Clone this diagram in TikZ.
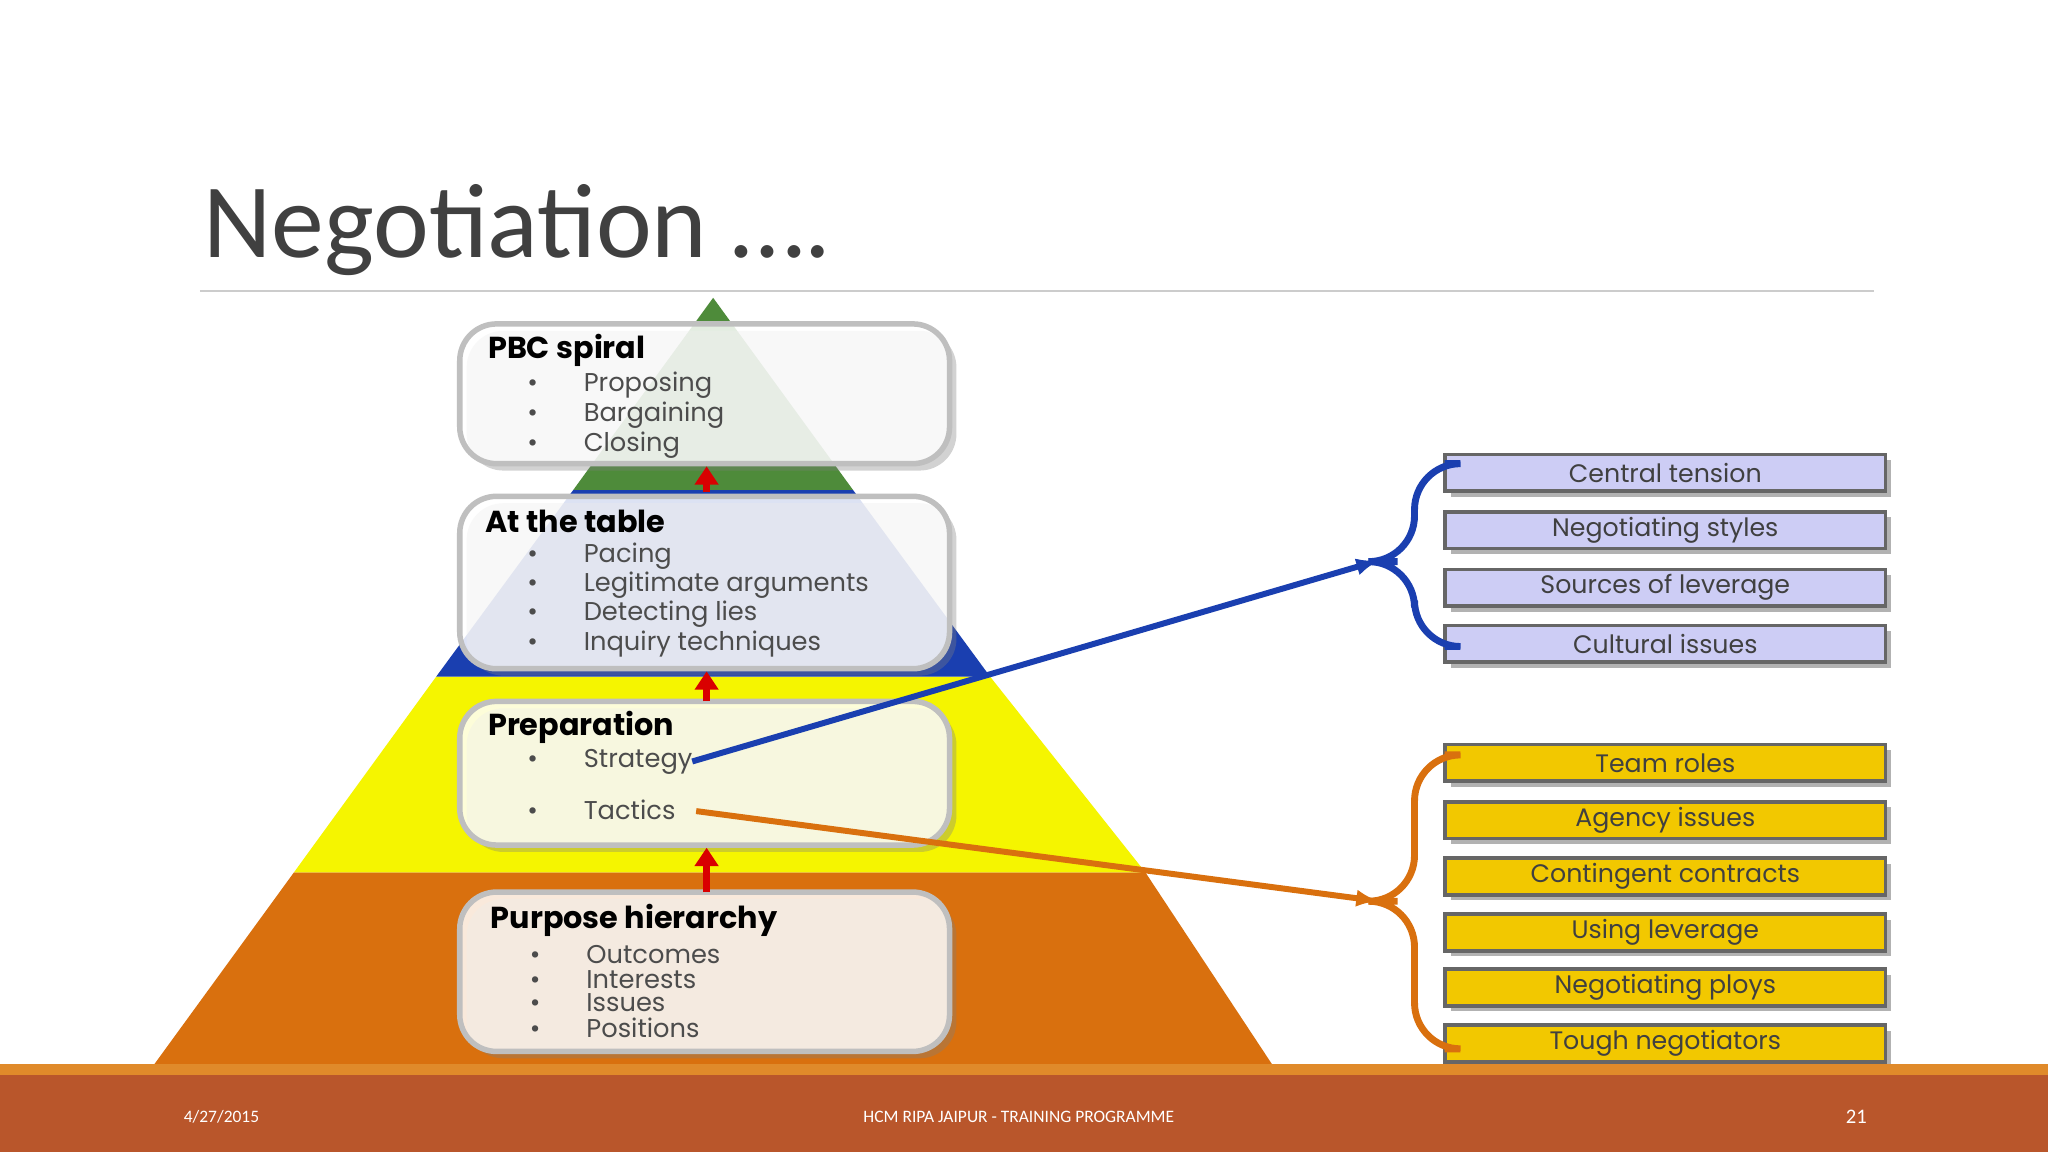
\documentclass[tikz,border=0pt]{standalone}
\usepackage{fontspec}
\setmainfont{Carlito}
\newfontfamily\gothic{Poppins}
\usetikzlibrary{decorations.pathreplacing,arrows.meta,shadows}
\definecolor{pgreen}{HTML}{4E8B3A}
\definecolor{pblue}{HTML}{1A3FB0}
\definecolor{pyellow}{HTML}{F5F500}
\definecolor{porange}{HTML}{D9700E}
\definecolor{lav}{HTML}{CDCDF5}
\definecolor{gold}{HTML}{F2C800}
\definecolor{barbrown}{HTML}{B9562B}
\definecolor{barorange}{HTML}{E08A2A}
\tikzset{
 whitebox/.style={draw=black!25,line width=1.2pt,rounded corners=8pt,fill=white,fill opacity=0.85,drop shadow={opacity=0.35,shadow xshift=1.5pt,shadow yshift=-1.5pt}},
 sidebox/.style={draw=black!60,line width=0.8pt,minimum width=3.37cm,minimum height=0.28cm,inner sep=0pt,font=\gothic\fontsize{5.5}{6}\selectfont,text=black!75,drop shadow={opacity=0.6,shadow xshift=1.2pt,shadow yshift=-1.2pt}},
 head/.style={anchor=west,font=\gothic\bfseries\fontsize{6.6}{7}\selectfont,inner sep=0pt},
 bl/.style={anchor=west,font=\gothic\fontsize{5.6}{6}\selectfont,text=black!70,inner sep=0pt},
 redarr/.style={-{Triangle[length=4pt,width=5pt]},red!85!black,line width=1.6pt},
}
\begin{document}
\begin{tikzpicture}[x=0.01cm,y=-0.01cm]
\useasboundingbox (0,0) rectangle (1568,882);
\fill[white] (0,0) rectangle (1568,882);
% title
\node[anchor=base west,inner sep=0pt,font=\fontsize{23}{26}\selectfont,text=black!75] (title) at (155,197) {Negotiation ….};
\draw[black!20,line width=0.5pt] (153,223) -- (1435,223);
% pyramid
\fill[porange] (118,815) -- (974,815) -- (877,668) -- (225,668) -- cycle;
\fill[pyellow] (225,668) -- (877,668) -- (758,518) -- (334,518) -- cycle;
\fill[pblue] (334,518) -- (758,518) -- (653,375) -- (439,375) -- cycle;
\fill[pgreen] (439,375) -- (653,375) -- (546,228) -- cycle;
% boxes
\draw[whitebox] (352,248) rectangle (727,355);
\draw[whitebox] (352,380) rectangle (727,512);
\draw[whitebox] (352,537) rectangle (727,647);
\draw[whitebox] (352,683) rectangle (727,805);
% box text
\node[head] (h1) at (373,268) {PBC spiral};
\node[bl] at (403,295) {•\hspace{10pt}Proposing};
\node[bl] at (403,318) {•\hspace{10pt}Bargaining};
\node[bl] at (403,341) {•\hspace{10pt}Closing};
\node[head] (h2) at (371,399) {At the table};
\node[bl] at (403,426) {•\hspace{10pt}Pacing};
\node[bl] at (403,448) {•\hspace{10pt}Legitimate arguments};
\node[bl] at (403,470) {•\hspace{10pt}Detecting lies};
\node[bl] at (403,493) {•\hspace{10pt}Inquiry techniques};
\node[head] (h3) at (373,557) {Preparation};
\node[bl] (strat) at (403,583) {•\hspace{10pt}Strategy};
\node[bl] (tact) at (403,620) {•\hspace{10pt}Tactics};
\node[head] (h4) at (375,705) {Purpose hierarchy};
\node[bl] at (405,731) {•\hspace{10pt}Outcomes};
\node[bl] at (405,750) {•\hspace{10pt}Interests};
\node[bl] at (405,768) {•\hspace{10pt}Issues};
\node[bl] at (405,787) {•\hspace{10pt}Positions};
% red arrows
\coordinate (r1a) at (541,377); \coordinate (r1b) at (541,357);
\coordinate (r2a) at (541,537); \coordinate (r2b) at (541,514);
\coordinate (r3a) at (541,683); \coordinate (r3b) at (541,649);
\draw[redarr] (r1a) -- (r1b);
\draw[redarr] (r2a) -- (r2b);
\draw[redarr] (r3a) -- (r3b);
% side boxes
\node[sidebox,fill=lav] (s1) at (1275,362) {Central tension};
\node[sidebox,fill=lav] (s2) at (1275,406) {Negotiating styles};
\node[sidebox,fill=lav] (s3) at (1275,450) {Sources of leverage};
\node[sidebox,fill=lav] (s4) at (1275,493) {Cultural issues};
\node[sidebox,fill=gold] (t1) at (1275,584) {Team roles};
\node[sidebox,fill=gold] (t2) at (1275,628) {Agency issues};
\node[sidebox,fill=gold] (t3) at (1275,671) {Contingent contracts};
\node[sidebox,fill=gold] (t4) at (1275,714) {Using leverage};
\node[sidebox,fill=gold] (t5) at (1275,756) {Negotiating ploys};
\node[sidebox,fill=gold] (t6) at (1275,799) {Tough negotiators};
% braces
\draw[pblue,line width=1.5pt,rounded corners=10pt] (1106,355) -- (1083,355) -- (1083,430) -- (1060,430);
\draw[pblue,line width=1.5pt,rounded corners=10pt] (1106,495) -- (1083,495) -- (1083,430) -- (1070,430);
\draw[porange,line width=1.5pt,rounded corners=10pt] (1106,578) -- (1083,578) -- (1083,690) -- (1060,690);
\draw[porange,line width=1.5pt,rounded corners=10pt] (1106,803) -- (1083,803) -- (1083,690) -- (1070,690);
\coordinate (bt) at (1056,429);
\coordinate (ot) at (1056,690);
\draw[pblue,line width=1.3pt,-{Latex[length=5pt]}] (530,583) -- (bt);
\draw[porange,line width=1.3pt,-{Latex[length=5pt]}] (533,621) -- (ot);
% footer
\fill[barorange] (0,815) rectangle (1568,823);
\fill[barbrown] (0,823) rectangle (1568,882);
\node[anchor=west,text=white,font=\fontsize{3.8}{4}\selectfont,inner sep=0pt] (d) at (140,855) {4/27/2015};
\node[text=white,font=\fontsize{3.8}{4}\selectfont,inner sep=0pt] (f) at (780,855) {HCM RIPA JAIPUR - TRAINING PROGRAMME};
\node[anchor=east,text=white,font=\fontsize{4.5}{5}\selectfont,inner sep=0pt] (n) at (1430,855) {21};
\end{tikzpicture}
\end{document}
